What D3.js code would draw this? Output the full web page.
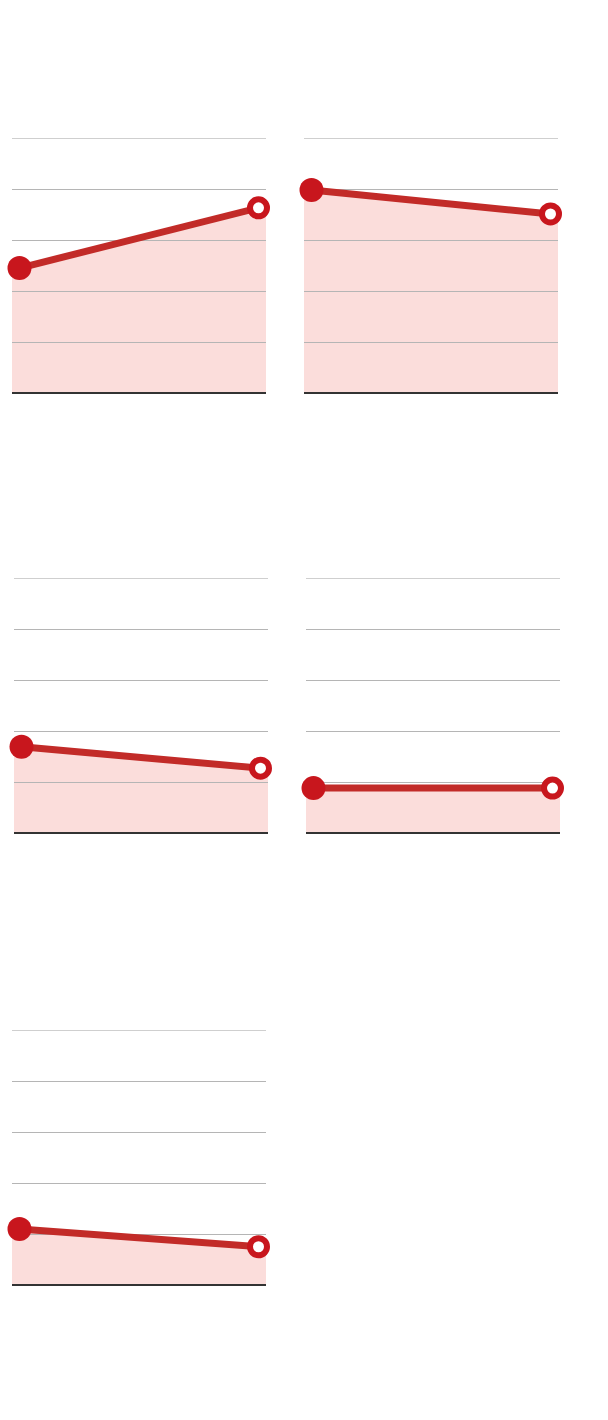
<!DOCTYPE html>
<html>
<head>
<meta charset="utf-8">
<script src="https://cdn.jsdelivr.net/npm/d3@7"></script>
<style>
html,body{margin:0;padding:0;background:#fff;}
svg{display:block;}
</style>
</head>
<body>
<div id="chart"></div>
<script>
// Data
const panels = ["A", "B", "C", "D", "E"];
const startValues = [2.45, 3.98, 1.69, 0.88, 1.10];
const endValues = [3.63, 3.51, 1.27, 0.88, 0.75];
const tickValues = [0, 1, 2, 3, 4, 5];

// Layout
const W = 608, H = 1420;
const panelW = 254, panelH = 255;
const origins = [[12, 138], [304, 138], [14, 578], [306, 578], [12, 1030]];
const inset = 7.5;

const svg = d3.select("#chart").append("svg")
  .attr("width", W).attr("height", H);

panels.forEach((p, i) => {
  const [ox, oy] = origins[i];
  const g = svg.append("g").attr("transform", `translate(${ox},${oy})`);
  const y = d3.scaleLinear().domain([0, 5]).range([panelH, 0]);
  const x = d3.scaleLinear().domain([0, 1]).range([inset, panelW - inset]);
  const pts = [{t: 0, v: startValues[i]}, {t: 1, v: endValues[i]}];

  // area
  const areaPts = [{px: 0, v: pts[0].v}, {px: x(0), v: pts[0].v}, {px: x(1), v: pts[1].v}, {px: panelW, v: pts[1].v}];
  g.append("path")
    .attr("d", d3.area().x(d => d.px).y0(y(0)).y1(d => y(d.v))(areaPts))
    .attr("fill", "#fbdddb");

  // grid lines
  g.selectAll("line.grid").data(tickValues.filter(t => t > 0)).enter()
    .append("line")
    .attr("x1", 0).attr("x2", panelW)
    .attr("y1", d => Math.round(y(d)) + 0.5).attr("y2", d => Math.round(y(d)) + 0.5)
    .attr("stroke", d => d === 5 ? "#cfcfcf" : "#b5b5b5")
    .attr("stroke-width", 1);

  // baseline
  g.append("line")
    .attr("x1", 0).attr("x2", panelW)
    .attr("y1", y(0)).attr("y2", y(0))
    .attr("stroke", "#333").attr("stroke-width", 2);

  // line
  g.append("path")
    .attr("d", d3.line().x(d => x(d.t)).y(d => y(d.v))(pts))
    .attr("fill", "none")
    .attr("stroke", "#c22b28")
    .attr("stroke-width", 7);

  // start dot
  g.append("circle")
    .attr("cx", x(0)).attr("cy", y(pts[0].v)).attr("r", 12)
    .attr("fill", "#c8161d");

  // end ring
  g.append("circle")
    .attr("cx", x(1)).attr("cy", y(pts[1].v)).attr("r", 8.5)
    .attr("fill", "#fff")
    .attr("stroke", "#c8161d")
    .attr("stroke-width", 6);
});
</script>
</body>
</html>
